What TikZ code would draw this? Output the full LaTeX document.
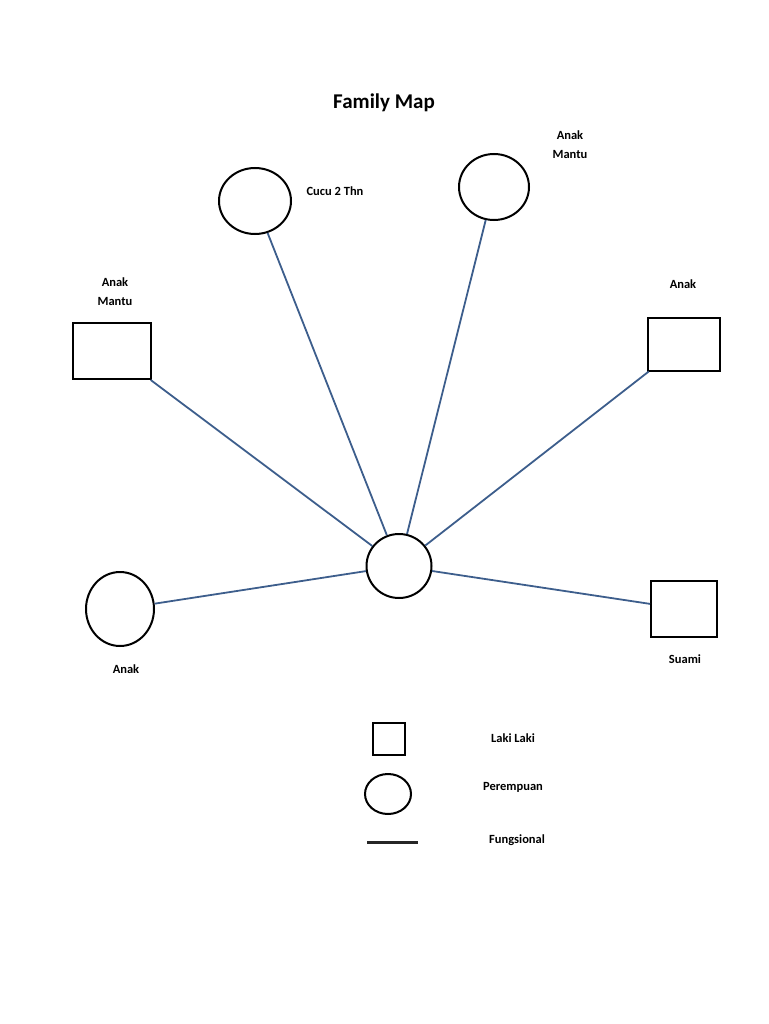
\documentclass[tikz,border=0pt]{standalone}
\usepackage{fontspec}
\setmainfont{Carlito}
\usetikzlibrary{shapes.geometric}
\definecolor{lnk}{RGB}{61,94,140}
\begin{document}
\begin{tikzpicture}[x=1pt,y=-1pt,
  per/.style={draw=black,line width=2pt,ellipse,inner sep=0pt},
  lak/.style={draw=black,line width=2pt,rectangle,inner sep=0pt},
  lbl/.style={font=\bfseries\fontsize{12.5}{19}\selectfont,align=center},
  rel/.style={draw=lnk,line width=1.8pt}]
\useasboundingbox (0,0) rectangle (768,1024);
\node[font=\bfseries\fontsize{21}{24}\selectfont] (title) at (384,103) {Family Map};
\node[per,minimum width=65pt,minimum height=64pt] (c) at (399,566) {};
\node[per,minimum width=72pt,minimum height=66pt] (cucu) at (255,201) {};
\node[per,minimum width=70pt,minimum height=66pt] (am2) at (494,187) {};
\node[lak,minimum width=78pt,minimum height=56pt] (am1) at (112,351) {};
\node[lak,minimum width=72pt,minimum height=53pt] (an1) at (684,344) {};
\node[per,minimum width=68pt,minimum height=74pt] (an2) at (120,609) {};
\node[lak,minimum width=66pt,minimum height=56pt] (su) at (684,609) {};
\draw[rel] (cucu) -- (c);
\draw[rel] (am2) -- (c);
\draw[rel] (am1) -- (c);
\draw[rel] (an1) -- (c);
\draw[rel] (an2) -- (c);
\draw[rel] (su) -- (c);
\node[lbl] (t1) at (335,191) {Cucu 2 Thn};
\node[lbl] (t2) at (570,145) {Anak\\Mantu};
\node[lbl] (t3) at (115,292) {Anak\\Mantu};
\node[lbl] (t4) at (683,284) {Anak};
\node[lbl] (t5) at (126,669) {Anak};
\node[lbl] (t6) at (685,659) {Suami};
\node[lak,minimum width=32pt,minimum height=32pt] (lq) at (389,739) {};
\node[per,minimum width=46pt,minimum height=40pt] (lc) at (388,794) {};
\coordinate (la) at (367,842);
\coordinate (lb) at (418,842);
\draw[line width=3pt,black!85] (la) -- (lb);
\node[lbl] (l1) at (513,738) {Laki Laki};
\node[lbl] (l2) at (513,787) {Perempuan};
\node[lbl] (l3) at (517,840) {Fungsional};
\end{tikzpicture}
\end{document}
